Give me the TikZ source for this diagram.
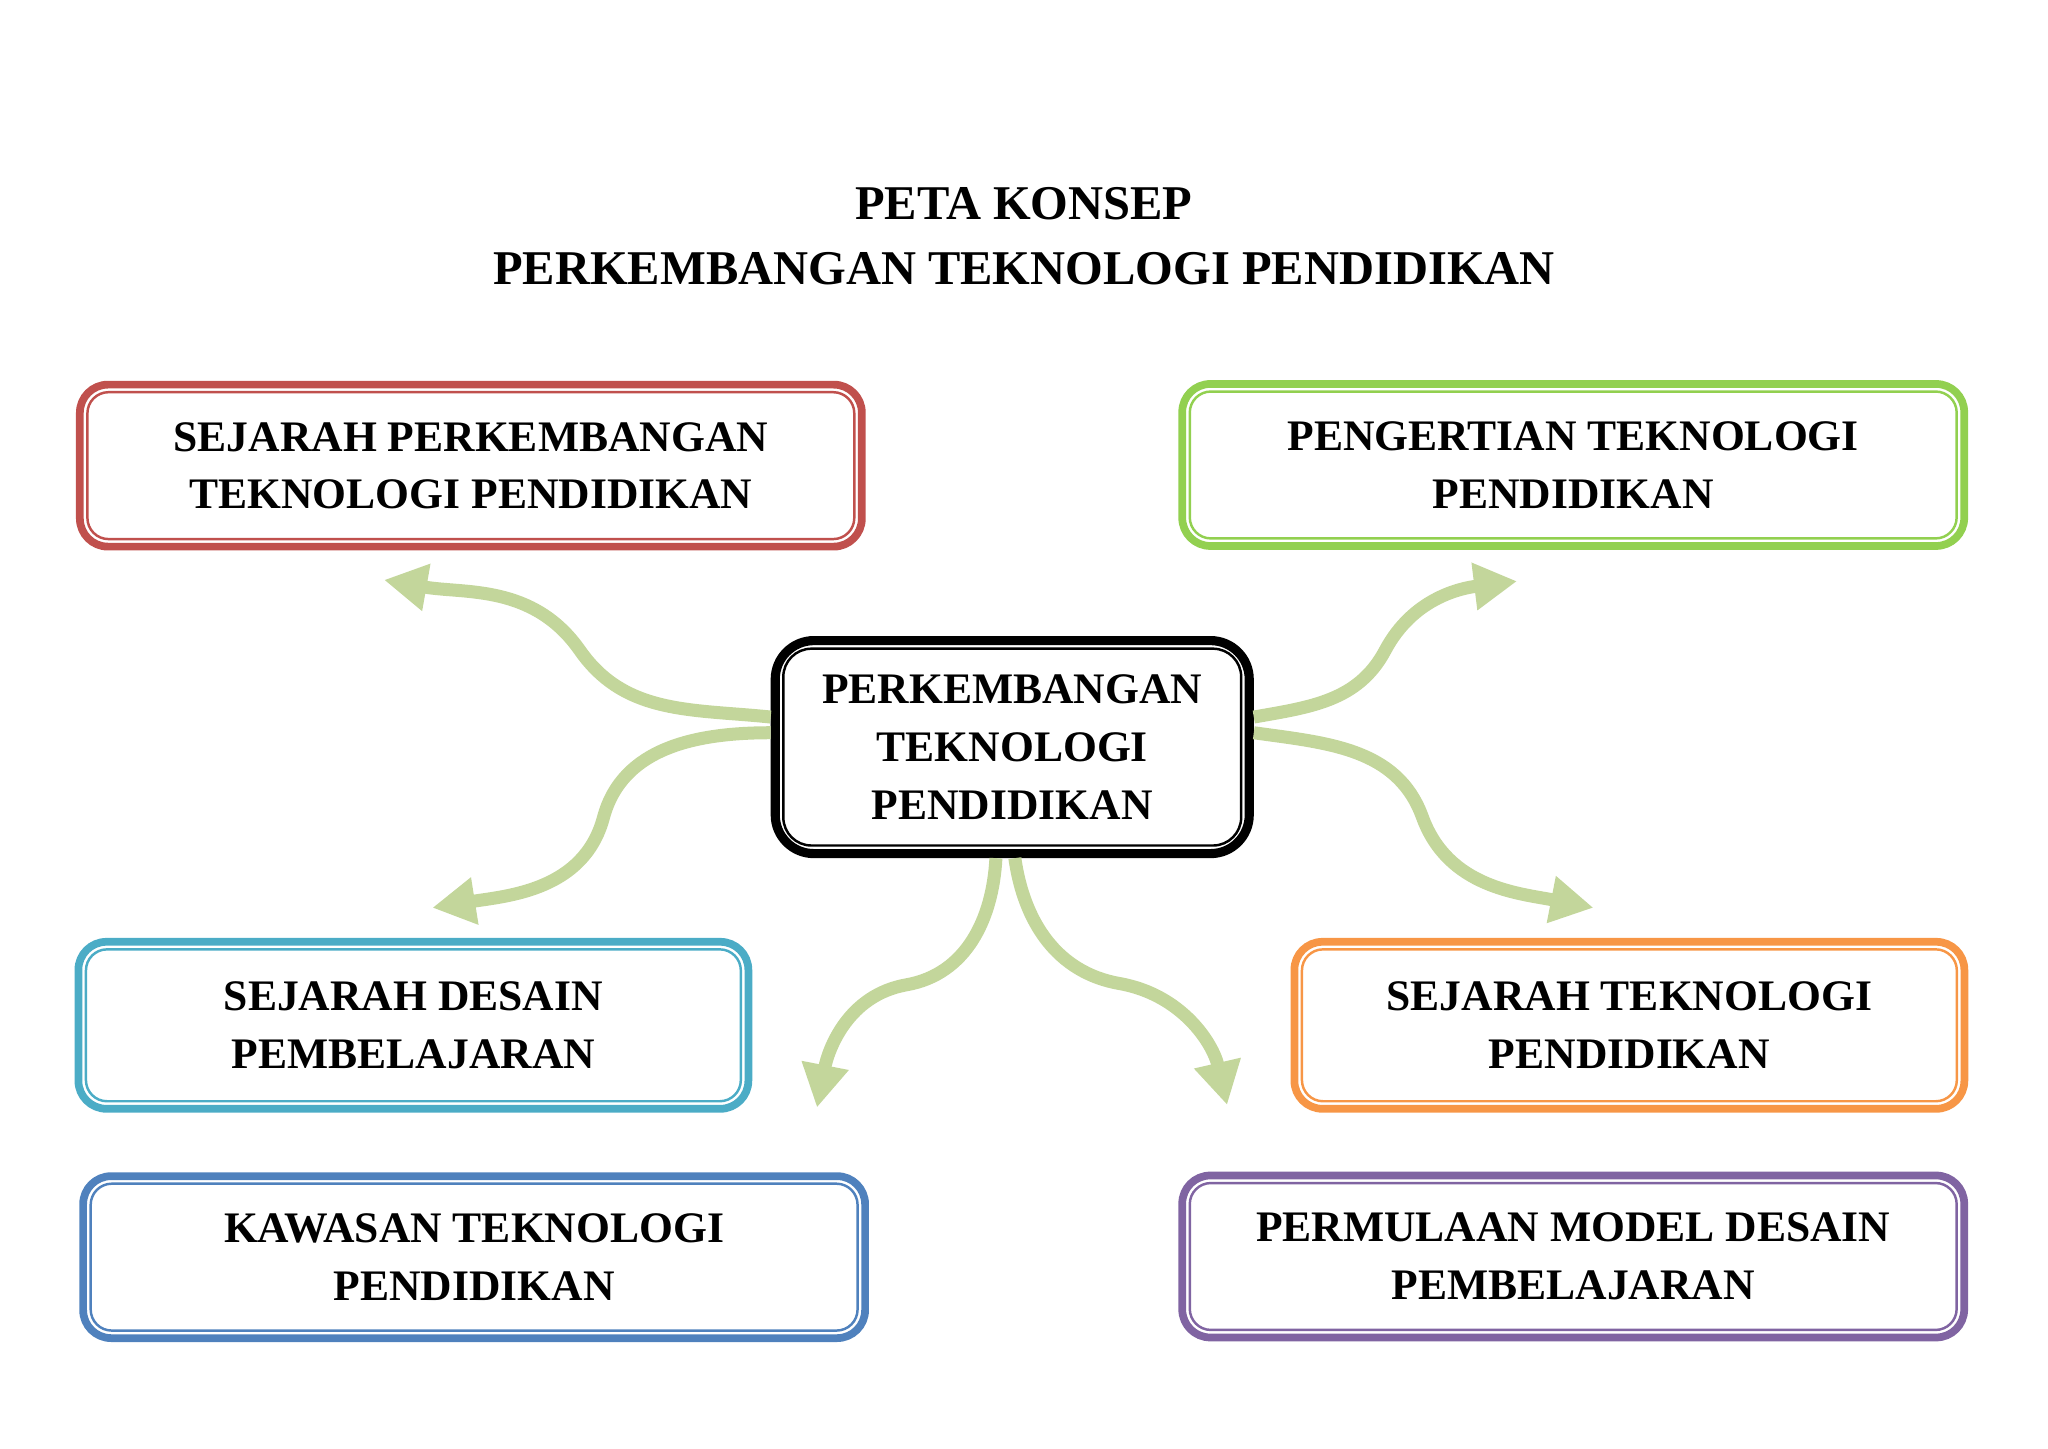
\documentclass[tikz,border=0pt]{standalone}
\usepackage{fontspec}
\setmainfont{Liberation Serif}
\usetikzlibrary{calc,arrows.meta}

\definecolor{merah}{HTML}{C0504D}
\definecolor{hijau}{HTML}{92D050}
\definecolor{tosca}{HTML}{4BACC6}
\definecolor{jingga}{HTML}{F79646}
\definecolor{biru}{HTML}{4F81BD}
\definecolor{ungu}{HTML}{8064A2}
\definecolor{hijaumuda}{HTML}{C3D69B}

\begin{document}
\begin{tikzpicture}[x=0.013061cm,y=0.013061cm,every node/.style={align=center,inner sep=0pt,font=\bfseries\fontsize{12.4}{16.4}\selectfont}]
\tikzstyle{kotak}=[line width=2.2pt,rounded corners=8pt,minimum width=7.82cm,minimum height=1.62cm]
\tikzstyle{kotakkecil}=[kotak,minimum width=6.70cm,minimum height=1.67cm]
\tikzstyle{garisdalam}=[line width=0.7pt,rounded corners=6pt]
\tikzstyle{panah}=[draw=hijaumuda,line width=3.7pt,-{Triangle[length=0.43cm,width=0.45cm]}]

\useasboundingbox (0,-9) rectangle (1568,1100);

\node (judul) [font=\bfseries\fontsize{13.8}{18.4}\selectfont] at (784,919) {PETA KONSEP\\PERKEMBANGAN TEKNOLOGI PENDIDIKAN};

\node (pusat) [draw=black,line width=2.6pt,rounded corners=11pt,minimum width=4.74cm,minimum height=2.13cm] at (775,528) {PERKEMBANGAN\\TEKNOLOGI\\PENDIDIKAN};

\node (sejarah) [kotak,draw=merah] at (360.5,743.5) {SEJARAH PERKEMBANGAN\\TEKNOLOGI PENDIDIKAN};
\node (pengertian) [kotak,draw=hijau] at (1204.5,744) {PENGERTIAN TEKNOLOGI\\PENDIDIKAN};
\node (desain) [kotakkecil,draw=tosca] at (316.5,315) {SEJARAH DESAIN\\PEMBELAJARAN};
\node (riwayat) [kotakkecil,draw=jingga] at (1247.5,315) {SEJARAH TEKNOLOGI\\PENDIDIKAN};
\node (kawasan) [kotak,draw=biru] at (363,137.5) {KAWASAN TEKNOLOGI\\PENDIDIKAN};
\node (permulaan) [kotak,draw=ungu] at (1204.5,138) {PERMULAAN MODEL DESAIN\\PEMBELAJARAN};

\foreach \n/\w in {sejarah/merah,pengertian/hijau,desain/tosca,riwayat/jingga,kawasan/biru,permulaan/ungu}
  \draw [garisdalam,draw=\w] ($(\n.south west)+(3.25pt,3.25pt)$) rectangle ($(\n.north east)-(3.25pt,3.25pt)$);
\draw [garisdalam,rounded corners=8pt] ($(pusat.south west)+(3.6pt,3.6pt)$) rectangle ($(pusat.north east)-(3.6pt,3.6pt)$);

\coordinate (b1) at (444,602);
\coordinate (u1) at (294,656);
\coordinate (b2) at (462,474);
\coordinate (u2) at (331,405);
\coordinate (b3) at (694,346);
\coordinate (u3) at (625.5,252);
\coordinate (b4) at (857,347);
\coordinate (u4) at (939.5,254);
\coordinate (b5) at (1060.5,602);
\coordinate (u5) at (1161.5,655);
\coordinate (b6) at (1089,474.5);
\coordinate (u6) at (1220,405);

\draw [panah] ($(pusat.west)+(0,23)$) to[out=174,in=-55] (b1) to[out=125,in=-10] (u1);
\draw [panah] ($(pusat.west)+(0,11)$) to[out=180,in=75] (b2) to[out=-105,in=9] (u2);
\draw [panah] ($(pusat.south)+(-12.5,0)$) to[out=-93,in=10] (b3) to[out=190,in=79] (u3);
\draw [panah] ($(pusat.south)+(2,0)$) to[out=-82,in=170] (b4) to[out=-10,in=103] (u4);
\draw [panah] ($(pusat.east)+(0,23)$) to[out=10,in=-118] (b5) to[out=62,in=187] (u5);
\draw [panah] ($(pusat.east)+(0,11)$) to[out=-8,in=110] (b6) to[out=-70,in=169] (u6);
\end{tikzpicture}
\end{document}
